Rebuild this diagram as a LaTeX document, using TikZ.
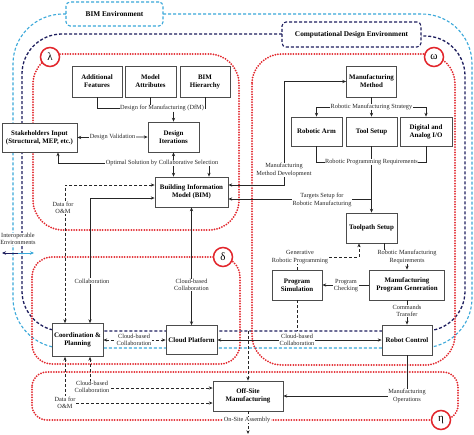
\documentclass[tikz,border=0pt]{standalone}
\usepackage{fontspec}
\setmainfont{Liberation Serif}
\usetikzlibrary{arrows.meta}
\definecolor{cyanc}{HTML}{3AA8DA}
\definecolor{navyc}{HTML}{1E1E5E}
\definecolor{redc}{HTML}{E2262C}
\begin{document}
\begin{tikzpicture}[x=1pt,y=-1pt,
 box/.style={draw=black!70, line width=0.8pt, fill=white, align=center, inner sep=0pt, font=\bfseries\fontsize{6.9}{8}\selectfont},
 lbl/.style={fill=white, inner sep=0.6pt, align=center, font=\fontsize{6.3}{7.2}\selectfont, text=black!85},
 conn/.style={draw=black!85, line width=0.7pt},
 arr/.style={-{Stealth[length=3.8pt,width=3.2pt]}},
 arrboth/.style={{Stealth[length=3.8pt,width=3.2pt]}-{Stealth[length=3.8pt,width=3.2pt]}},
 dsh/.style={dash pattern=on 3pt off 2pt},
 cyand/.style={draw=cyanc, line width=1.1pt, dash pattern=on 3pt off 2pt},
 navyd/.style={draw=navyc, line width=1.3pt, dash pattern=on 3pt off 2pt},
 reddot/.style={draw=redc, line width=2pt, dash pattern=on 0pt off 2.6pt, line cap=round},
 greek/.style={circle, draw=redc, line width=1.5pt, fill=white, minimum size=19pt, inner sep=0pt, font=\fontsize{11}{11}\selectfont},
 title/.style={fill=white, rounded corners=4pt, line width=1.1pt, inner sep=0pt, font=\bfseries\fontsize{7.3}{8}\selectfont}
]
\useasboundingbox (0,0) rectangle (474,434);
\fill[white] (0,0) rectangle (474,434);

% environments
\draw[cyand, rounded corners=50pt] (66,14) -- (13,14) -- (13,348) -- (472,348) -- (472,14) -- (163,14);
\draw[navyd, rounded corners=40pt] (282,34) -- (22,34) -- (22,331) -- (465,331) -- (465,36) -- (421,36);
\node[title, draw=cyanc, dsh, minimum width=97pt, minimum height=24pt] (bimenv) at (114.5,14) {BIM Environment};
\node[title, draw=navyc, dsh, minimum width=139pt, minimum height=25pt] (cde) at (351.5,34.5) {Computational Design Environment};

% red regions
\draw[reddot, rounded corners=30pt] (33,54) rectangle (239,230);
\draw[reddot, rounded corners=30pt] (252,54) rectangle (455,365);
\draw[reddot, rounded corners=20pt] (32,257) rectangle (240,364);
\draw[reddot, rounded corners=15pt] (32,372) rectangle (458,420);
\node[greek] (lam) at (50,57) {λ};
\node[greek] (ome) at (434,57) {ω};
\node[greek] (del) at (223,257) {δ};
\node[greek] (eta) at (441,420) {η};

% boxes
\node[box, minimum width=50pt, minimum height=31pt] (af) at (97,81.5) {Additional\\Features};
\node[box, minimum width=51pt, minimum height=31pt] (ma) at (150.5,81.5) {Model\\Attributes};
\node[box, minimum width=50pt, minimum height=31pt] (bh) at (205,81.5) {BIM\\Hierarchy};
\node[box, minimum width=51pt, minimum height=30pt] (di) at (173.5,137) {Design\\Iterations};
\node[box, minimum width=75pt, minimum height=29pt] (sh) at (39.5,137.5) {Stakeholders Input\\(Structural, MEP, etc.)};
\node[box, minimum width=73pt, minimum height=30pt] (bim) at (191.5,192) {Building Information\\Model (BIM)};
\node[box, minimum width=50pt, minimum height=31pt] (mm) at (371.5,81.5) {Manufacturing\\Method};
\node[box, minimum width=51pt, minimum height=29pt] (ra) at (316.5,131.5) {Robotic Arm};
\node[box, minimum width=51pt, minimum height=29pt] (ts) at (371.5,131.5) {Tool Setup};
\node[box, minimum width=52pt, minimum height=29pt] (dg) at (426,131.5) {Digital and\\Analog I/O};
\node[box, minimum width=51pt, minimum height=30pt] (tp) at (371.5,228) {Toolpath Setup};
\node[box, minimum width=50pt, minimum height=30pt] (ps) at (297,285) {Program\\Simulation};
\node[box, minimum width=75pt, minimum height=30pt] (mpg) at (407,285) {Manufacturing\\Program Generation};
\node[box, minimum width=50pt, minimum height=30pt] (rc) at (407,340) {Robot Control};
\node[box, minimum width=51pt, minimum height=33pt] (cp) at (77.5,340) {Coordination \&\\Planning};
\node[box, minimum width=51pt, minimum height=29pt] (cl) at (191.5,340) {Cloud Platform};
\node[box, minimum width=70pt, minimum height=30pt] (os) at (248,396) {Off-Site\\Manufacturing};

% DfM
\coordinate (f1) at (97,108);
\coordinate (f2) at (205,108);
\draw[conn] (af.south) -- (f1) -- (f2) -- (bh.south);
\draw[conn] (ma.south) -- (ma.south |- f1);
\node[lbl] (dfm) at (162,108) {Design for Manufacturing (DfM)};
\draw[conn,arr] (di.north |- dfm.south) -- (di.north);

% Design validation
\draw[conn,arrboth] (sh.east) -- (di.west) node[lbl, midway] {Design Validation};

% Optimal solution
\coordinate (o1) at (58,163);
\coordinate (o2) at (209,163);
\draw[conn] (o1) -- (o2);
\draw[conn,arr] (o1) -- (o1 |- sh.south);
\draw[conn,arr] (o2) -- (o2 |- bim.north);
\draw[conn,arrboth] (di.south) -- (di.south |- bim.north);
\node[lbl] at (162,163) {Optimal Solution by Collaborative Selection};

% BIM to coordination
\coordinate (d1) at (65,185);
\draw[conn,dsh,arrboth] (bim.west |- d1) -- (d1) -- (d1 |- cp.north);
\node[lbl] at (63,208) {Data for\\O\&M};
\coordinate (c1) at (90,198);
\draw[conn,arrboth] (bim.west |- c1) -- (c1) -- (c1 |- cp.north);
\node[lbl] at (92,281) {Collaboration};
\draw[conn,arrboth] (bim.south) -- (cl.north);
\node[lbl] at (191.5,285) {Cloud-based\\Collaboration};

% Manufacturing method development
\coordinate (m2) at (284,185);
\draw[conn,arrboth] (mm.west) -| (m2) -- (bim.east |- m2);
\node[lbl] at (284,170) {Manufacturing\\Method Development};

% robotic manufacturing strategy
\coordinate (s1) at (371.5,107);
\draw[conn] (mm.south) -- (s1);
\draw[conn,arr] (s1) -| (ra.north);
\draw[conn,arr] (s1) -| (dg.north);
\draw[conn,arr] (s1) -- (ts.north);
\node[lbl] at (371.5,107) {Robotic Manufacturing Strategy};

% robotic programming requirements
\coordinate (r1) at (371.5,162);
\draw[conn] (ra.south) |- (r1) -| (dg.south);
\draw[conn,arr] (ts.south) -- (tp.north);
\node[lbl] at (371.5,162) {Robotic Programming Requirements};

% targets setup
\coordinate (t1) at (371.5,199);
\draw[conn,arr] (t1) -- (bim.east |- t1);
\node[lbl] at (322,200) {Targets Setup for\\Robotic Manufacturing};

% toolpath -> MPG
\coordinate (q1) at (384,257);
\draw[conn,arr] (tp.south -| q1) -- (q1) -| (mpg.north);
\node[lbl] at (407,257) {Robotic Manufacturing\\Requirements};

% generative
\coordinate (g1) at (359,257);
\draw[conn,dsh,arr] (ps.north) |- (g1) -- (g1 |- tp.south);
\node[lbl] at (300,257) {Generative\\Robotic Programming};

% program checking
\draw[conn,arr] (mpg.west) -- (ps.east);
\node[lbl] at (346,286) {Program\\Checking};

% commands transfer
\draw[conn,arr] (mpg.south) -- (rc.north);
\node[lbl] at (407,311) {Commands\\Transfer};

% program simulation down
\coordinate (p1) at (297,331);
\draw[conn,dsh] (ps.south) -- (p1);

% cloud - robot
\draw[conn,arrboth] (rc.west) -- (cl.east);
\node[lbl] at (297,340) {Cloud-based\\Collaboration};

% coordination - cloud
\draw[conn,dsh,arrboth] (cp.east) -- (cl.west);
\node[lbl] at (134,340) {Cloud-based\\Collaboration};

% to off-site
\coordinate (o3) at (248,331);
\coordinate (o4) at (248,434);
\draw[conn,dsh,arr] (o3) -- (os.north);
\draw[conn,dsh,arr] (os.south) -- (o4);
\node[lbl] at (247,420) {On-Site Assembly};

\coordinate (e1) at (65,403);
\draw[conn,dsh,arrboth] (cp.south -| e1) -- (e1) -- (os.west |- e1);
\node[lbl] at (65,402.5) {Data for\\O\&M};
\coordinate (e2) at (90,388);
\draw[conn,dsh,arrboth] (cp.south -| e2) -- (e2) -- (os.west |- e2);
\node[lbl] at (92,387) {Cloud-based\\Collaboration};

% manufacturing operations
\coordinate (mo) at (407,396);
\draw[conn,arr] (rc.south) -- (mo) -- (os.east |- mo);
\node[lbl] at (407,396) {Manufacturing\\Operations};

% interoperable
\node[lbl] (inter) at (18,239) {Interoperable\\Environments};
\coordinate (i0) at (18,253);
\coordinate (i1) at (2,253);
\coordinate (i2) at (34,253);
\draw[navyc, line width=1pt, -{Stealth[length=4pt,width=3.5pt]}] (i0) -- (i1);
\draw[cyanc, line width=1pt, -{Stealth[length=4pt,width=3.5pt]}] (i0) -- (i2);
\end{tikzpicture}
\end{document}
